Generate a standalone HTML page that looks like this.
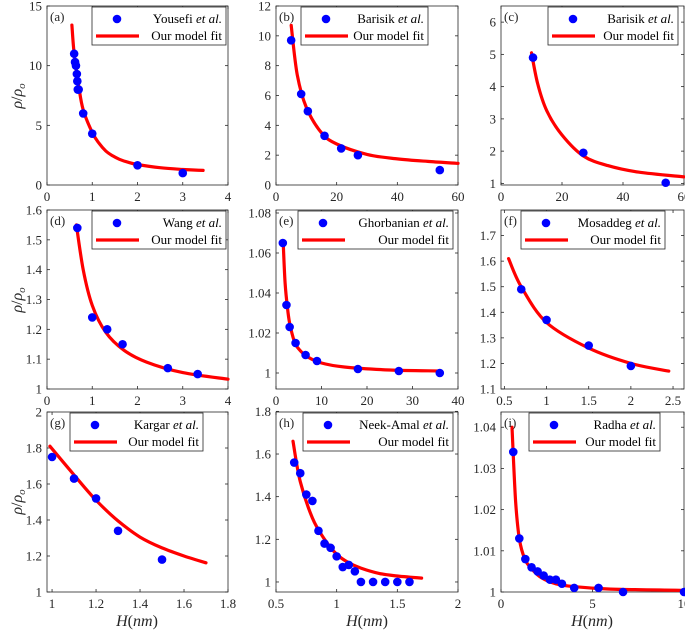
<!DOCTYPE html>
<html><head><meta charset="utf-8"><style>
html,body{margin:0;padding:0;background:#fff;}
svg{display:block;font-family:"Liberation Serif",serif;}
</style></head><body>
<svg id="fig" width="685" height="634" viewBox="0 0 685 634"></svg>
<script>
// ---- data arrays ----
const aX=[0.6,0.62,0.64,0.66,0.67,0.68,0.7,0.8,1,2,3];
const aY=[11,10.3,10,9.3,8.7,8,8,6,4.3,1.65,1];
const aFX=[0.55,0.6,0.7,0.8,1,1.15,1.3,1.45,1.6,1.8,2,2.5,3,3.45];
const aFY=[13.4,11,8.3,6.3,4.4,3.5,2.85,2.45,2.15,1.9,1.72,1.45,1.3,1.22];
const bX=[5,8.3,10.5,16,21.5,27,54];
const bY=[9.7,6.1,4.95,3.3,2.45,2,1];
const bFX=[5,7,10,15,20,30,40,50,60];
const bFY=[10.7,7.4,5.2,3.5,2.75,2.05,1.75,1.58,1.45];
const cX=[10.5,27,54];
const cY=[4.9,1.95,1.02];
const cFX=[10,12,15,20,27,35,45,60];
const cFY=[5.05,4.1,3.25,2.5,1.85,1.55,1.35,1.2];
const dX=[0.67,1,1.33,1.67,2.67,3.33];
const dY=[1.54,1.24,1.2,1.15,1.07,1.05];
const dFX=[0.65,0.8,1,1.3,1.7,2.2,3,4];
const dFY=[1.55,1.4,1.28,1.19,1.13,1.09,1.055,1.033];
const eX=[1.5,2.3,3,4.3,6.5,9,18,27,36];
const eY=[1.065,1.034,1.023,1.015,1.009,1.006,1.002,1.001,1.0];
const eFX=[1.6,2,2.5,3,4,5,7,10,15,25,36];
const eFY=[1.064,1.045,1.033,1.025,1.016,1.012,1.008,1.005,1.003,1.0015,1.001];
const fX=[0.7,1,1.5,2];
const fY=[1.49,1.37,1.27,1.19];
const fFX=[0.55,0.7,1,1.5,2,2.45];
const fFY=[1.61,1.5,1.36,1.26,1.2,1.17];
const gX=[1,1.1,1.2,1.3,1.5];
const gY=[1.75,1.63,1.52,1.34,1.18];
const gFX=[0.99,1.1,1.2,1.3,1.4,1.5,1.6,1.7];
const gFY=[1.81,1.65,1.51,1.395,1.305,1.245,1.2,1.162];
const hX=[0.65,0.7,0.75,0.8,0.85,0.9,0.95,1.0,1.05,1.1,1.15,1.2,1.3,1.4,1.5,1.6];
const hY=[1.56,1.51,1.41,1.38,1.24,1.18,1.16,1.12,1.07,1.08,1.05,1.0,1.0,1.0,1.0,1.0];
const hFX=[0.64,0.7,0.8,0.9,1.0,1.1,1.2,1.35,1.5,1.7];
const hFY=[1.66,1.47,1.3,1.2,1.13,1.09,1.065,1.04,1.028,1.018];
const iX=[0.67,1,1.33,1.67,2,2.33,2.67,3,3.33,4,5.33,6.67,10];
const iY=[1.034,1.013,1.008,1.006,1.005,1.004,1.003,1.003,1.002,1.001,1.001,1.0,1.0];
const iFX=[0.6,0.8,1,1.3,1.7,2.2,3,4,6,10];
const iFY=[1.04,1.022,1.013,1.008,1.0055,1.0035,1.002,1.0013,1.0007,1.0004];
const sources=["Yousefi","Barisik","Barisik","Wang","Ghorbanian","Mosaddeg","Kargar","Neek-Amal","Radha"];
const letters=["a","b","c","d","e","f","g","h","i"];

const colsL=[47,276,501], colsR=[228,458,684];
const rowsT=[6,210,412], rowsB=[185,389,592];
const panels=[
 {x:aX,y:aY,fx:aFX,fy:aFY,xl:[0,4],yl:[0,15],xt:[0,1,2,3,4],yt:[0,5,10,15],lg:[92,226]},
 {x:bX,y:bY,fx:bFX,fy:bFY,xl:[0,60],yl:[0,12],xt:[0,20,40,60],yt:[0,2,4,6,8,10,12],lg:[301,428]},
 {x:cX,y:cY,fx:cFX,fy:cFY,xl:[0,60],yl:[0.95,6.5],xt:[0,20,40,60],yt:[1,2,3,4,5,6],lg:[548,678]},
 {x:dX,y:dY,fx:dFX,fy:dFY,xl:[0,4],yl:[1,1.6],xt:[0,1,2,3,4],yt:[1,1.1,1.2,1.3,1.4,1.5,1.6],lg:[92,226]},
 {x:eX,y:eY,fx:eFX,fy:eFY,xl:[0,40],yl:[0.992,1.0815],xt:[0,10,20,30,40],yt:[1,1.02,1.04,1.06,1.08],lg:[298,453]},
 {x:fX,y:fY,fx:fFX,fy:fFY,xl:[0.46,2.63],yl:[1.1,1.8],xt:[0.5,1,1.5,2,2.5],yt:[1.1,1.2,1.3,1.4,1.5,1.6,1.7],lg:[521,665]},
 {x:gX,y:gY,fx:gFX,fy:gFY,xl:[0.977,1.8],yl:[1,2],xt:[1,1.2,1.4,1.6,1.8],yt:[1,1.2,1.4,1.6,1.8,2],lg:[70,203]},
 {x:hX,y:hY,fx:hFX,fy:hFY,xl:[0.5,2],yl:[0.953,1.797],xt:[0.5,1,1.5,2],yt:[1,1.2,1.4,1.6,1.8],lg:[303,453]},
 {x:iX,y:iY,fx:iFX,fy:iFY,xl:[0,10],yl:[1,1.0437],xt:[0,5,10],yt:[1,1.01,1.02,1.03,1.04],lg:[529,660]}
];
const NS="http://www.w3.org/2000/svg";
const svg=document.getElementById('fig');
function mk(tag,attrs,parent){const e=document.createElementNS(NS,tag);for(const k in attrs)e.setAttribute(k,attrs[k]);(parent||svg).appendChild(e);return e;}
function fmt(v){return String(+v.toFixed(3));}

panels.forEach((p,k)=>{
  const L=colsL[k%3],R=colsR[k%3],T=rowsT[Math.floor(k/3)],B=rowsB[Math.floor(k/3)];
  const sx=v=>L+(v-p.xl[0])/(p.xl[1]-p.xl[0])*(R-L);
  const sy=v=>B-(v-p.yl[0])/(p.yl[1]-p.yl[0])*(B-T);
  const g=mk('g',{});
  
  
  const box=mk('rect',{x:L,y:T,width:R-L,height:B-T,fill:'#fff',stroke:'#262626','stroke-width':0.8},g);
  
  
  p.xt.forEach(v=>{
    const x=sx(v);
    mk('line',{x1:x,x2:x,y1:B,y2:B-3,stroke:'#262626','stroke-width':0.8},g);
    mk('line',{x1:x,x2:x,y1:T,y2:T+3,stroke:'#262626','stroke-width':0.8},g);
    const t=mk('text',{x:x,y:B+16,'text-anchor':'middle','font-size':13,fill:'#262626'},g);
    t.textContent=fmt(v);
    
    
  });
  p.yt.forEach(v=>{
    const y=sy(v);
    mk('line',{x1:L,x2:L+3,y1:y,y2:y,stroke:'#262626','stroke-width':0.8},g);
    mk('line',{x1:R,x2:R-3,y1:y,y2:y,stroke:'#262626','stroke-width':0.8},g);
    const t=mk('text',{x:L-5,y:y+4.5,'text-anchor':'end','font-size':13,fill:'#262626'},g);
    t.textContent=fmt(v);
    
    
  });
  const pts=p.fx.map((v,i)=>[sx(v),sy(p.fy[i])]);
  let d='M'+pts[0][0].toFixed(1)+','+pts[0][1].toFixed(1);
  for(let i=0;i<pts.length-1;i++){
    const p0=pts[Math.max(0,i-1)],p1=pts[i],p2=pts[i+1],p3=pts[Math.min(pts.length-1,i+2)];
    const c1=[p1[0]+(p2[0]-p0[0])/6,p1[1]+(p2[1]-p0[1])/6];
    const c2=[p2[0]-(p3[0]-p1[0])/6,p2[1]-(p3[1]-p1[1])/6];
    d+=' C'+c1.map(n=>n.toFixed(1))+' '+c2.map(n=>n.toFixed(1))+' '+p2.map(n=>n.toFixed(1));
  }
  const fl=mk('path',{d:d,fill:'none',stroke:'#ff0000','stroke-width':3.2,'stroke-linecap':'round'},g);
  
  
  p.x.forEach((v,i)=>{
    const c=mk('circle',{cx:sx(v),cy:sy(p.y[i]),r:4.3,fill:'#0000ff'},g);
    
    
  });
  const pl=mk('text',{x:L+3,y:T+15,'font-size':13,fill:'#262626'},g);
  pl.textContent='('+letters[k]+')';
  
  
  const lx=p.lg[0],rx=p.lg[1],ty=T+1;
  const lg=mk('g',{},g);
  
  
  mk('rect',{x:lx,y:ty,width:rx-lx,height:38,fill:'#fff',stroke:'#262626','stroke-width':0.8},lg);
  mk('circle',{cx:lx+25,cy:ty+12,r:4.3,fill:'#0000ff'},lg);
  const t1=mk('text',{x:rx-4,y:ty+16,'text-anchor':'end','font-size':13,fill:'#000'},lg);
  t1.innerHTML=sources[k]+' <tspan font-style="italic">et al.</tspan>';
  
  
  mk('line',{x1:lx+4,x2:lx+47,y1:ty+29,y2:ty+29,stroke:'#ff0000','stroke-width':3.2},lg);
  const t2=mk('text',{x:rx-4,y:ty+33,'text-anchor':'end','font-size':13,fill:'#000'},lg);
  t2.textContent='Our model fit';
  
  
});
[96,300,502].forEach(cy=>{
  const t=mk('text',{x:0,y:0,transform:'translate(22,'+cy+') rotate(-90)','text-anchor':'middle','font-size':16,fill:'#262626'});
  t.innerHTML='<tspan font-style="italic">ρ</tspan>/<tspan font-style="italic">ρ</tspan><tspan font-style="italic" font-size="11" dy="3">o</tspan>';
  
  
});
[137,367,592].forEach(cx=>{
  const t=mk('text',{x:cx,y:626,'text-anchor':'middle','font-size':16,fill:'#262626'});
  t.innerHTML='<tspan font-style="italic">H</tspan>(<tspan font-style="italic">nm</tspan>)';
  
  
});
</script>
</body></html>
